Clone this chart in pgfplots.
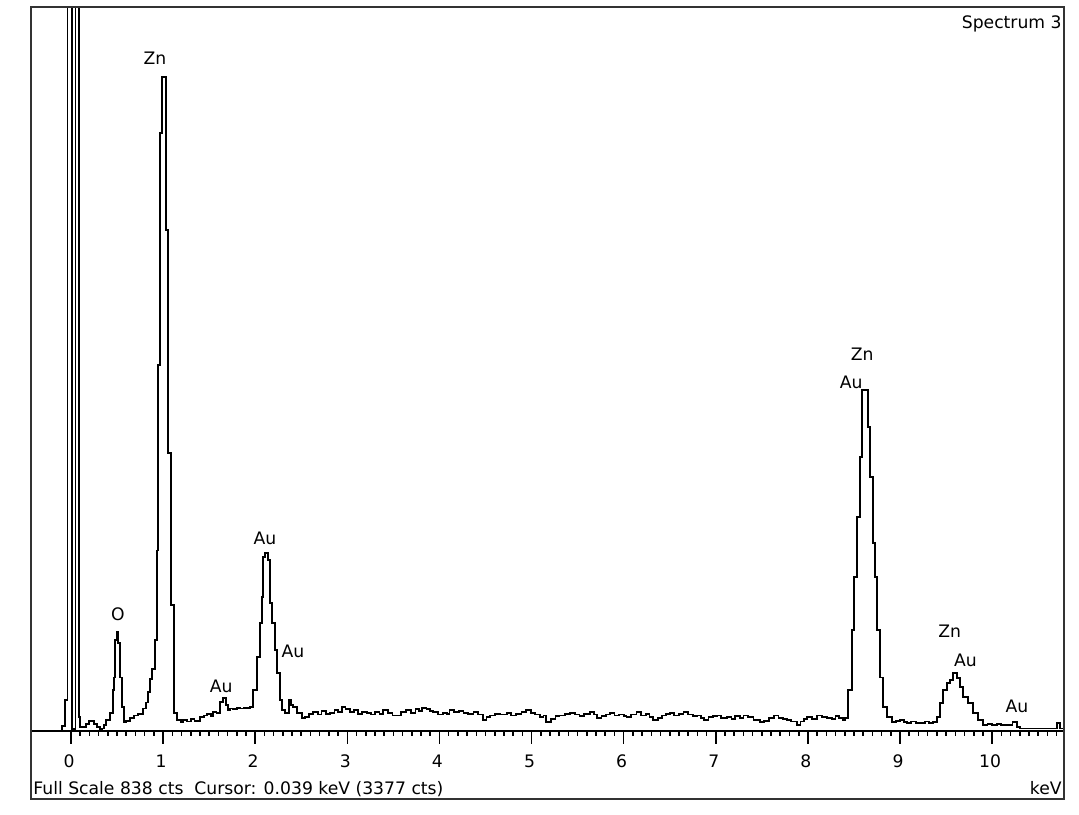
\documentclass[border=0pt]{standalone}
\usepackage{fontspec}
\setmainfont{DejaVu Sans}
\usepackage{pgfplots}
\pgfplotsset{compat=1.18}
\newcommand{\lbl}{\fontsize{8.6}{10}\selectfont}
\begin{document}
\begin{tikzpicture}
\begin{axis}[
  scale only axis,
  width=516.5pt, height=396pt,
  xmin=-0.434, xmax=10.78,
  ymin=-78.7, ymax=838,
  axis x line*=middle, axis y line=none,
  xtick={0,...,10},
  minor xtick={0,0.1,...,10.75},
  ytick=\empty,
  tick align=outside,
  major tick length=6.5pt, minor tick length=2.5pt,
  x axis line style={line width=1.1pt},
  every tick/.style={black, line width=0.8pt},
  xticklabel style={font=\lbl, xshift=-1pt, yshift=-2pt},
  /pgf/number format/assume math mode=true,
  clip=true,
]
\addplot[black, line width=0.9pt, const plot] coordinates {
(-0.20,0) (-0.10,6) (-0.065,36) (-0.038,3377) (0.011,2) (0.049,3377) (0.087,16)
(0.098,5) (0.163,8) (0.195,12) (0.25,8) (0.28,5) (0.315,0) (0.337,3) (0.36,7)
(0.38,13) (0.423,21) (0.456,47) (0.467,62) (0.478,105) (0.494,115) (0.51,102)
(0.532,62) (0.554,28) (0.575,10) (0.60,12) (0.64,15) (0.684,18) (0.727,20)
(0.78,26) (0.814,33) (0.836,45) (0.858,60) (0.88,72) (0.912,105) (0.934,209)
(0.945,424) (0.966,692) (0.988,757) (1.031,580) (1.053,322) (1.086,146)
(1.118,21) (1.151,13) (1.19,10) (1.22,13) (1.26,11) (1.30,14) (1.34,12)
(1.40,16) (1.44,18) (1.48,20) (1.52,17) (1.54,22) (1.58,21) (1.618,34)
(1.65,38) (1.68,30) (1.705,24) (1.73,26) (1.76,25) (1.80,27) (1.84,26)
(1.88,27) (1.92,26) (1.944,28) (1.976,47) (2.02,86) (2.052,125) (2.074,155)
(2.085,201) (2.106,206) (2.139,198) (2.16,148) (2.182,125) (2.215,94)
(2.237,67) (2.269,36) (2.291,24) (2.324,21) (2.367,36) (2.39,30) (2.41,28)
(2.454,21) (2.508,15) (2.54,16)
(2.58,20) (2.63,22) (2.68,19) (2.72,23) (2.77,20) (2.81,21) (2.86,24) (2.90,22)
(2.94,28) (2.98,25) (3.03,22) (3.07,24) (3.12,20) (3.16,22) (3.21,21) (3.26,19)
(3.30,22) (3.35,20) (3.39,24) (3.44,21) (3.49,18) (3.53,18) (3.58,22) (3.64,24)
(3.69,21) (3.74,25) (3.78,23) (3.81,27) (3.86,25) (3.90,23) (3.93,22) (3.98,19)
(4.04,21) (4.08,20) (4.11,24) (4.16,22) (4.21,23) (4.26,21) (4.31,20) (4.37,22)
(4.42,19) (4.47,13) (4.51,16) (4.55,18) (4.60,20) (4.66,19) (4.73,21) (4.78,18)
(4.83,20) (4.89,22) (4.94,24) (4.99,21) (5.04,19) (5.09,16) (5.13,18) (5.16,10)
(5.21,14) (5.26,17) (5.30,18) (5.36,20) (5.42,21) (5.47,19) (5.52,17) (5.57,20)
(5.63,22) (5.68,19) (5.71,15) (5.76,17) (5.81,19) (5.85,21) (5.90,18) (5.95,19)
(6.00,17) (6.03,16) (6.08,19) (6.14,22) (6.19,18) (6.24,20) (6.28,16) (6.32,13)
(6.37,15) (6.42,18) (6.46,20) (6.50,21) (6.55,18) (6.60,20) (6.65,22) (6.70,19)
(6.75,17) (6.80,18) (6.84,15) (6.87,13) (6.92,16) (6.97,17) (7.01,18) (7.06,15)
(7.12,16) (7.17,14) (7.21,17) (7.26,15) (7.30,18) (7.35,16) (7.41,13) (7.48,10)
(7.52,12) (7.58,15) (7.63,18) (7.68,15) (7.73,14) (7.77,13) (7.82,11) (7.88,7)
(7.92,11) (7.96,14) (7.99,16) (8.04,14) (8.10,18) (8.15,16) (8.21,15) (8.26,14)
(8.30,17) (8.34,15) (8.38,13) (8.40,15)
(8.436,47) (8.480,117) (8.502,178) (8.534,248) (8.567,317) (8.589,395)
(8.654,352) (8.675,294) (8.708,218) (8.730,178) (8.751,117) (8.784,62)
(8.817,28) (8.860,16) (8.914,10) (8.96,12) (9.00,13) (9.04,10) (9.077,9)
(9.12,11) (9.17,9) (9.218,9) (9.27,11) (9.31,9) (9.36,10) (9.40,16) (9.435,32)
(9.468,47) (9.51,56) (9.544,59) (9.577,67) (9.62,61) (9.65,51) (9.685,39)
(9.74,32) (9.79,21) (9.85,13) (9.90,7) (9.95,8) (10.00,7) (10.05,8) (10.10,7)
(10.16,7) (10.22,10) (10.27,5) (10.30,3) (10.40,3) (10.50,3) (10.60,3)
(10.70,9) (10.74,3) (10.78,3)
};
\node[font=\lbl] at (axis cs:0.912,779) {Zn};
\node[font=\lbl] at (axis cs:0.51,135) {O};
\node[font=\lbl] at (axis cs:2.106,223) {Au};
\node[font=\lbl] at (axis cs:2.41,92) {Au};
\node[font=\lbl] at (axis cs:1.63,52) {Au};
\node[font=\lbl] at (axis cs:8.59,436) {Zn};
\node[font=\lbl] at (axis cs:8.47,404) {Au};
\node[font=\lbl] at (axis cs:9.54,116) {Zn};
\node[font=\lbl] at (axis cs:9.71,82) {Au};
\node[font=\lbl] at (axis cs:10.27,28) {Au};
\node[font=\lbl, anchor=north east, inner sep=1pt, yshift=-3pt] at (rel axis cs:1,1) {Spectrum 3};
\node[font=\lbl, anchor=base west, inner sep=1pt] at (axis cs:-0.434,-74) {Full Scale 838 cts\ \ Cursor: 0.039 keV (3377 cts)};
\node[font=\lbl, anchor=base east, inner sep=1pt] at (axis cs:10.78,-74) {keV};
\coordinate (sw) at (rel axis cs:0,0);
\coordinate (ne) at (rel axis cs:1,1);
\end{axis}
\draw[black!80, line width=1pt] (sw) rectangle (ne);
\pgfresetboundingbox
\path ([shift={(-15.5pt,-8pt)}]sw) rectangle ([shift={(7.5pt,3.5pt)}]ne);
\end{tikzpicture}
\end{document}
